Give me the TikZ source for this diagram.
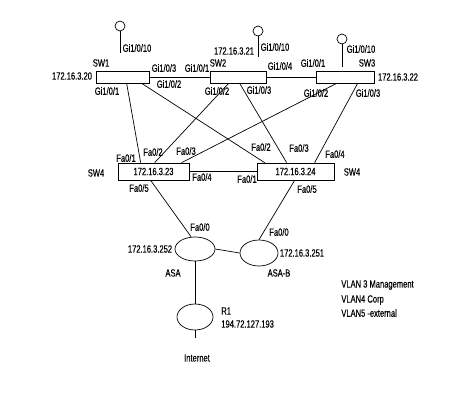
\documentclass[tikz,border=0pt]{standalone}
\usepackage{fontspec}
\setmainfont{Liberation Sans}[FakeStretch=0.72,FakeBold=0.4]
\usetikzlibrary{shapes.geometric}
\begin{document}
\begin{tikzpicture}[x=1pt,y=-1pt,line width=0.7pt,
  sw/.style={draw,rectangle,inner sep=0pt,minimum height=12pt},
  fw/.style={draw,ellipse,inner sep=0pt},
  ant/.style={draw,circle,inner sep=0pt,minimum size=10pt},
  lbl/.style={inner sep=0pt,font=\fontsize{10.5}{12}\selectfont}]
\useasboundingbox (0,0) rectangle (474,416);
% コアスイッチ
\node[sw,minimum width=53pt] (sw1) at (122.5,77) {};
\node[sw,minimum width=56pt] (sw2) at (238,77) {};
\node[sw,minimum width=58pt] (sw3) at (345,77) {};
% アクセススイッチ
\node[sw,minimum width=71pt,minimum height=17pt,lbl] (sw4a) at (153.5,171.5) {172.16.3.23};
\node[sw,minimum width=77pt,minimum height=17pt,lbl] (sw4b) at (295.5,171.5) {172.16.3.24};
% ASA とルータ
\node[fw,minimum width=40pt,minimum height=24pt] (asa) at (195,249) {};
\node[fw,minimum width=38pt,minimum height=26pt] (asab) at (259,253) {};
\node[fw,minimum width=36pt,minimum height=26pt] (r1) at (195,317) {};
% アンテナ
\node[ant] (ant1) at (120,26) {};
\node[ant] (ant2) at (258,31) {};
\node[ant] (ant3) at (342,39) {};
\coordinate (stem1) at (120,53);
\coordinate (stem2) at (258,57);
\coordinate (stem3) at (342,67);
\draw (ant1) -- (stem1);
\draw (ant2) -- (stem2);
\draw (ant3) -- (stem3);
% 接続
\draw (sw1.east) -- (sw2.west);
\draw (sw2.east) -- (sw3.west);
\draw (sw4a.east) -- (sw4b.west);
\draw ([xshift=31pt]sw1.south west) -- ([xshift=23pt]sw4a.north west);
\draw ([xshift=46pt]sw1.south west) -- ([xshift=8pt]sw4b.north west);
\draw ([xshift=19pt]sw2.south west) -- ([xshift=37pt]sw4a.north west);
\draw ([xshift=30pt]sw2.south west) -- ([xshift=30pt]sw4b.north west);
\draw ([xshift=21pt]sw3.south west) -- ([xshift=64pt]sw4a.north west);
\draw ([xshift=42pt]sw3.south west) -- ([xshift=58pt]sw4b.north west);
\draw ([xshift=33pt]sw4a.south west) -- ([xshift=-4pt]asa.north);
\draw ([xshift=38pt]sw4b.south west) -- (asab.north);
\draw (asa.east) -- (asab.west);
\draw (asa.south) -- (r1.north);
\coordinate (inet) at (195,338);
\draw (r1) -- (inet);
% SW1 ラベル
\node[lbl] (t1) at (101,63) {SW1};
\node[lbl] (t2) at (72,76) {172.16.3.20};
\node[lbl] (t3) at (137,48) {Gi1/0/10};
\node[lbl] (t4) at (164,68) {Gi1/0/3};
\node[lbl] (t5) at (169,84) {Gi1/0/2};
\node[lbl] (t6) at (107,91) {Gi1/0/1};
% SW2 ラベル
\node[lbl] (t7) at (218,63) {SW2};
\node[lbl] (t8) at (234,51) {172.16.3.21};
\node[lbl] (t9) at (275,47) {Gi1/0/10};
\node[lbl] (t10) at (197,68) {Gi1/0/1};
\node[lbl] (t11) at (280,66) {Gi1/0/4};
\node[lbl] (t12) at (217,91) {Gi1/0/2};
\node[lbl] (t13) at (259,90) {Gi1/0/3};
% SW3 ラベル
\node[lbl] (t14) at (367,63) {SW3};
\node[lbl] (t15) at (398,77) {172.16.3.22};
\node[lbl] (t16) at (361,49) {Gi1/0/10};
\node[lbl] (t17) at (313,63) {Gi1/0/1};
\node[lbl] (t18) at (316,93) {Gi1/0/2};
\node[lbl] (t19) at (368,93) {Gi1/0/3};
% SW4 ラベル
\node[lbl] (t20) at (96,173) {SW4};
\node[lbl] (t21) at (126,158) {Fa0/1};
\node[lbl] (t22) at (153,152) {Fa0/2};
\node[lbl] (t23) at (186,151) {Fa0/3};
\node[lbl] (t24) at (202,177) {Fa0/4};
\node[lbl] (t25) at (139,188) {Fa0/5};
\node[lbl] (t26) at (352,172) {SW4};
\node[lbl] (t27) at (247,179) {Fa0/1};
\node[lbl] (t28) at (261,147) {Fa0/2};
\node[lbl] (t29) at (299,148) {Fa0/3};
\node[lbl] (t30) at (335,154) {Fa0/4};
\node[lbl] (t31) at (307,189) {Fa0/5};
% ASA ラベル
\node[lbl] (t32) at (200,227) {Fa0/0};
\node[lbl] (t33) at (150,249) {172.16.3.252};
\node[lbl] (t34) at (173,273) {ASA};
\node[lbl] (t35) at (279,232) {Fa0/0};
\node[lbl] (t36) at (302,253) {172.16.3.251};
\node[lbl] (t37) at (279,273) {ASA-B};
% R1 ラベル
\node[lbl,anchor=west] (t38) at (221,311) {R1};
\node[lbl,anchor=west] (t39) at (221,324) {194.72.127.193};
\node[lbl] (t40) at (197,358) {Internet};
% VLAN
\node[lbl,anchor=west] (v3) at (341,285) {VLAN 3 Management};
\node[lbl,anchor=west] (v4) at (341,300) {VLAN4 Corp};
\node[lbl,anchor=west] (v5) at (341,313) {VLAN5 -external};
\end{tikzpicture}
\end{document}
